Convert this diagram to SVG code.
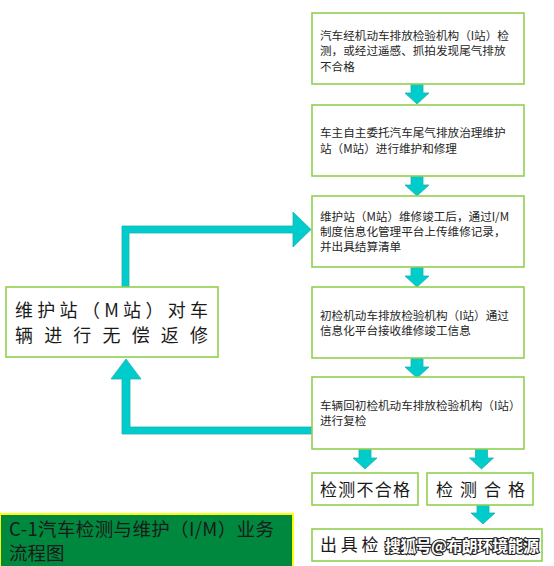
<svg xmlns="http://www.w3.org/2000/svg" width="554" height="566" viewBox="0 0 554 566">
<defs>
<style>
.box{fill:#fff;stroke:#92d050;stroke-width:1.6}
.t{font-family:'Noto Sans CJK SC','Noto Sans',sans-serif;font-size:11.6px;fill:#262626}
.big{font-family:'Noto Sans CJK SC','Noto Sans',sans-serif;font-size:18px;fill:#1a1a1a}
.mid{font-family:'Noto Sans CJK SC','Noto Sans',sans-serif;font-size:17px;fill:#1a1a1a}
.arr{fill:#00cccc;stroke:#22b0b0;stroke-width:0.8}
.wm{font-family:'Noto Sans CJK SC','Noto Sans',sans-serif;font-size:16px;fill:#fff;stroke:#222;stroke-width:2.2;paint-order:stroke;font-weight:bold}
</style>
<path id="down" d="M-6,0 H6 V9 H12 L0,20 L-12,9 H-6 Z"/>
</defs>
<rect width="554" height="566" fill="#fff"/>
<g id="connectors">
<use href="#down" class="arr" transform="translate(417,84)"/>
<use href="#down" class="arr" transform="translate(417,176)"/>
<use href="#down" class="arr" transform="translate(417,267)"/>
<use href="#down" class="arr" transform="translate(417,358)"/>
<use href="#down" class="arr" transform="translate(365,449)"/>
<use href="#down" class="arr" transform="translate(481.5,449)"/>
<use href="#down" class="arr" transform="translate(483,504)"/>
<path class="arr" d="M122,287 V226 H293 V212 L311,229.5 L293,247 V233 H129 V287 Z"/>
<path class="arr" d="M312,427 V434 H122 V379 H111 L126,359 L141,379 H130 V427 Z"/>
</g>
<g id="n1">
<rect class="box" x="312" y="13" width="212" height="71"/>
<text class="t" x="320" y="39.5">汽车经机动车排放检验机构（I站）检</text>
<text class="t" x="320" y="55">测，或经过遥感、抓拍发现尾气排放</text>
<text class="t" x="320" y="70.5">不合格</text>
</g>
<g id="n2">
<rect class="box" x="312" y="105" width="212" height="71"/>
<text class="t" x="320" y="137">车主自主委托汽车尾气排放治理维护</text>
<text class="t" x="320" y="153">站（M站）进行维护和修理</text>
</g>
<g id="n3">
<rect class="box" x="312" y="196" width="212" height="71"/>
<text class="t" x="320" y="221">维护站（M站）维修竣工后，通过I/M</text>
<text class="t" x="320" y="236">制度信息化管理平台上传维修记录，</text>
<text class="t" x="320" y="251">并出具结算清单</text>
</g>
<g id="n4">
<rect class="box" x="312" y="287" width="212" height="71"/>
<text class="t" x="320" y="320">初检机动车排放检验机构（I站）通过</text>
<text class="t" x="320" y="335">信息化平台接收维修竣工信息</text>
</g>
<g id="n5">
<rect class="box" x="312" y="377" width="212" height="72"/>
<text class="t" x="320" y="410">车辆回初检机动车排放检验机构（I站）</text>
<text class="t" x="320" y="425">进行复检</text>
</g>
<g id="n6">
<rect class="box" x="6" y="287" width="212" height="70"/>
<text class="big" x="15" y="317" textLength="193" lengthAdjust="spacing">维护站（M站）对车</text>
<text class="big" x="15" y="342" textLength="193" lengthAdjust="spacing">辆 进 行 无 偿 返 修</text>
</g>
<g id="n7">
<rect class="box" x="312" y="473" width="106" height="32"/>
<text class="mid" x="320" y="496" textLength="90" lengthAdjust="spacing">检测不合格</text>
</g>
<g id="n8">
<rect class="box" x="427" y="473" width="106" height="32"/>
<text class="mid" x="436" y="496" textLength="89" lengthAdjust="spacing">检 测 合 格</text>
</g>
<g id="n9">
<rect class="box" x="312" y="529" width="230" height="32"/>
<text class="mid" x="320" y="551">出 具 检</text>
<text class="wm" x="385" y="552" textLength="154" lengthAdjust="spacing">搜狐号@布朗环境能源</text>
</g>
<g id="title">
<rect x="0" y="514" width="293" height="56" fill="#00883e" stroke="#ffff00" stroke-width="2"/>
<text class="big" x="9" y="536" textLength="265" lengthAdjust="spacing" style="font-size:18.5px">C-1汽车检测与维护（I/M）业务</text>
<text class="big" x="9" y="560" style="font-size:18.5px">流程图</text>
</g>
</svg>
